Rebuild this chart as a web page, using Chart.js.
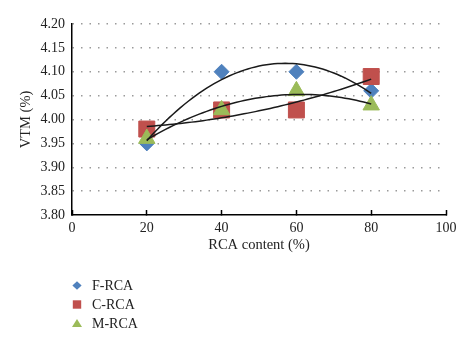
<!DOCTYPE html>
<html>
<head>
<meta charset="utf-8">
<script src="https://cdn.jsdelivr.net/npm/chart.js@4.4.0/dist/chart.umd.min.js"></script>
<style>
  body { margin: 0; background: #fff; }
</style>
</head>
<body>
<canvas id="vtmChart" width="474" height="349"></canvas>
<script>
// RCA content levels and measured VTM for each recycled aggregate type
const rcaContent = [20, 40, 60, 80];
const vtmF = [3.95, 4.10, 4.10, 4.06];
const vtmC = [3.98, 4.02, 4.02, 4.09];
const vtmM = [3.96, 4.02, 4.06, 4.03];
const seriesNames = ['F-RCA', 'C-RCA', 'M-RCA'];
const xTicks = [0, 20, 40, 60, 80, 100];
const yTicks = [3.80, 3.85, 3.90, 3.95, 4.00, 4.05, 4.10, 4.15, 4.20];

const FONT = { family: "'Liberation Serif', 'DejaVu Serif', serif", size: 14 };
const TITLE_FONT = { family: FONT.family, size: 14.5 };
const TEXT = '#222';

// 2nd order polynomial trendline (least squares), like the spreadsheet one
function quadFit(xs, ys) {
  const s = [0, 0, 0, 0, 0], t = [0, 0, 0];
  xs.forEach((x, i) => {
    for (let k = 0; k < 5; k++) s[k] += Math.pow(x, k);
    for (let k = 0; k < 3; k++) t[k] += ys[i] * Math.pow(x, k);
  });
  const M = [[s[0], s[1], s[2]], [s[1], s[2], s[3]], [s[2], s[3], s[4]]];
  const det = m => m[0][0] * (m[1][1] * m[2][2] - m[1][2] * m[2][1])
                 - m[0][1] * (m[1][0] * m[2][2] - m[1][2] * m[2][0])
                 + m[0][2] * (m[1][0] * m[2][1] - m[1][1] * m[2][0]);
  const d = det(M);
  const c = [0, 1, 2].map(j => det(M.map((row, i) => row.map((v, k) => k === j ? t[i] : v))) / d);
  return x => c[0] + c[1] * x + c[2] * x * x;
}

function trendPoints(ys) {
  const f = quadFit(rcaContent, ys);
  const pts = [];
  const x0 = rcaContent[0], x1 = rcaContent[rcaContent.length - 1];
  for (let x = x0; x <= x1; x += 1) pts.push({ x: x, y: f(x) });
  return pts;
}

const toXY = ys => rcaContent.map((x, i) => ({ x: x, y: ys[i] }));

function markerSet(label, ys, style, radius, color, order) {
  return {
    label: label,
    data: toXY(ys),
    pointStyle: style,
    pointRadius: radius,
    pointHoverRadius: radius,
    backgroundColor: color,
    borderColor: color,
    borderWidth: 1,
    showLine: false,
    order: order,
    legend: true
  };
}

function trendSet(ys) {
  return {
    label: '',
    data: trendPoints(ys),
    showLine: true,
    pointRadius: 0,
    borderColor: '#1a1a1a',
    borderWidth: 1.5,
    fill: false,
    order: 0
  };
}

const datasets = [
  markerSet(seriesNames[0], vtmF, 'rectRot', 7.5, '#4F81BD', 3),
  markerSet(seriesNames[1], vtmC, 'rect', 11.3, '#C0504D', 2),
  markerSet(seriesNames[2], vtmM, 'triangle', 9.5, '#9BBB59', 1),
  trendSet(vtmF),
  trendSet(vtmC),
  trendSet(vtmM)
];

// legend stacked under the plot, one row per series
const stackedLegend = {
  id: 'stackedLegend',
  afterDraw(chart) {
    const ctx = chart.ctx;
    chart.data.datasets.filter(d => d.legend).forEach((d, i) => {
      const x = 77, y = 285.5 + i * 19;
      ctx.save();
      ctx.fillStyle = d.backgroundColor;
      ctx.beginPath();
      if (d.pointStyle === 'rectRot') {
        ctx.moveTo(x, y - 4.2); ctx.lineTo(x + 4.6, y); ctx.lineTo(x, y + 4.2); ctx.lineTo(x - 4.6, y);
      } else if (d.pointStyle === 'rect') {
        ctx.rect(x - 4.2, y - 4.2, 8.4, 8.4);
      } else {
        ctx.moveTo(x, y - 4.5); ctx.lineTo(x + 5, y + 3.5); ctx.lineTo(x - 5, y + 3.5);
      }
      ctx.closePath();
      ctx.fill();
      ctx.fillStyle = TEXT;
      ctx.font = FONT.size + 'px ' + FONT.family;
      ctx.textBaseline = 'middle';
      ctx.textAlign = 'left';
      ctx.fillText(d.label, 92, y + 0.5);
      ctx.restore();
    });
  }
};

new Chart(document.getElementById('vtmChart'), {
  type: 'scatter',
  data: { datasets: datasets },
  plugins: [stackedLegend],
  options: {
    responsive: false,
    animation: false,
    layout: { padding: { left: 0, top: 24, right: 28, bottom: 0 } },
    plugins: {
      legend: { display: false },
      tooltip: { enabled: false }
    },
    scales: {
      x: {
        type: 'linear',
        min: 0,
        max: 100,
        afterBuildTicks: s => { s.ticks = xTicks.map(v => ({ value: v })); },
        afterFit: s => { s.height = 134; },
        grid: { drawOnChartArea: false, drawTicks: true, tickLength: -5, tickColor: '#000', tickWidth: 1.5 },
        border: { color: '#000', width: 1.5 },
        ticks: { padding: 10, color: TEXT, font: FONT, maxRotation: 0, callback: v => String(v) },
        title: { display: true, text: 'RCA content (%)', color: TEXT, font: TITLE_FONT, padding: { top: 0, bottom: 95 } }
      },
      y: {
        min: 3.8,
        max: 4.2,
        afterBuildTicks: s => { s.ticks = yTicks.map(v => ({ value: v })); },
        afterFit: s => { s.width = 72; },
        grid: {
          drawTicks: false,
          lineWidth: 1.5,
          color: c => (c.tick && c.tick.value > 3.81) ? '#9a9a9a' : 'rgba(0,0,0,0)'
        },
        border: { color: '#000', width: 1.5, dash: [1.5, 7] },
        ticks: { padding: 7, color: TEXT, font: FONT, callback: v => Number(v).toFixed(2) },
        title: { display: true, text: 'VTM (%)', color: TEXT, font: TITLE_FONT, padding: { top: 17, bottom: 0 } }
      }
    }
  }
});
</script>
</body>
</html>
